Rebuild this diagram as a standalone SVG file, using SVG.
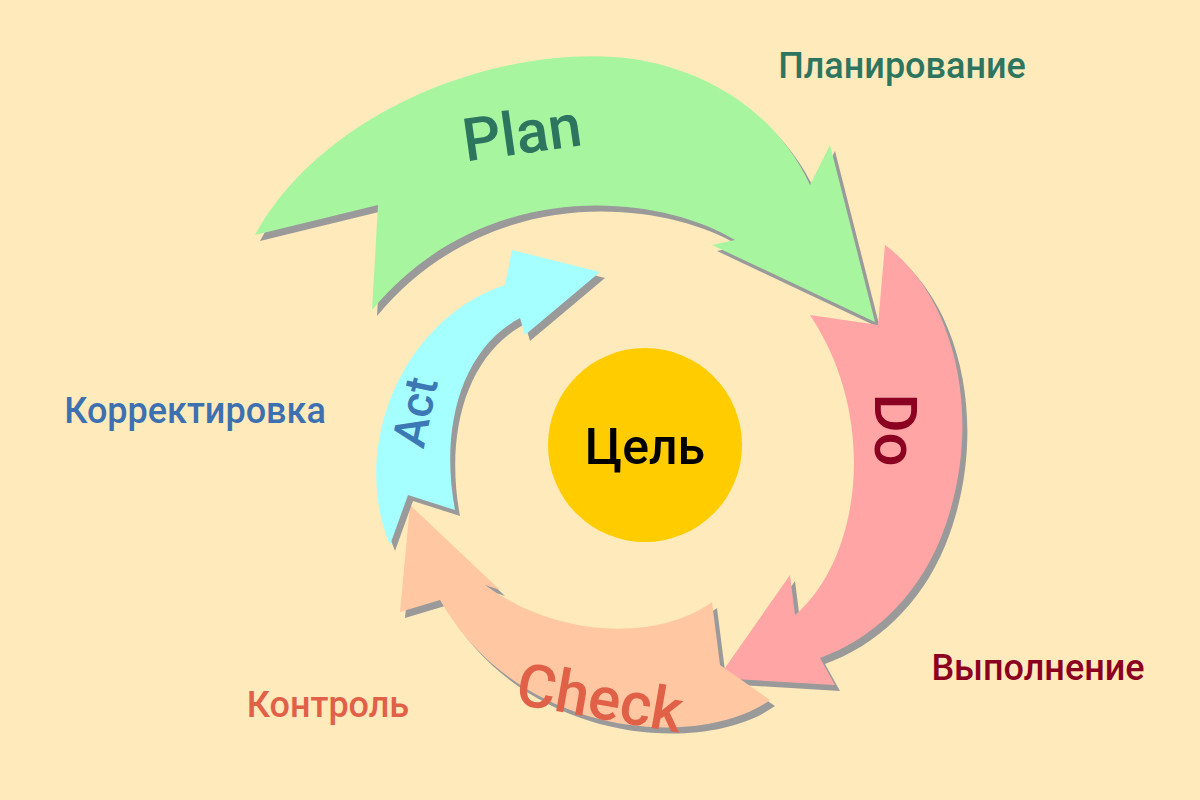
<svg xmlns="http://www.w3.org/2000/svg" width="1200" height="800" viewBox="0 0 1200 800">
<style>
text{font-family:Roboto,"Liberation Sans",sans-serif;font-weight:500;text-anchor:middle;dominant-baseline:central}
.sh{fill:#9a9a9a}
.lab{font-size:36px}
.big{font-size:60px}
</style>
<defs>
<path id="plan" d="M255,235 C330,100 520,40 640,60 C720,75 780,120 810,185 L830,145 L875,322 L712,245 L735,240 C650,190 480,180 372,310 L378,205 Z"/>
<path id="do" d="M885,245 C960,300 985,430 940,540 C915,600 870,640 820,658 L835,685 L718,678 L790,575 L795,615 C860,560 880,420 810,315 L878,325 Z"/>
<path id="check" d="M770,700 C700,750 520,740 440,600 L400,612 L410,505 L500,590 L485,585 C560,640 660,640 712,602 L720,665 Z"/>
<path id="act" d="M390,545 C350,450 400,320 505,285 L512,250 L600,272 L525,335 L520,318 C460,350 440,430 455,510 L408,495 Z"/>
</defs>
<rect width="1200" height="800" fill="#FFEABB"/>
<g id="connectors">
<use href="#plan" class="sh" transform="translate(5,6)"/>
<use href="#plan" fill="#A8F5A0"/>
<use href="#do" class="sh" transform="translate(5,6)"/>
<use href="#do" fill="#FFA5A5"/>
<use href="#check" class="sh" transform="translate(5,6)"/>
<use href="#check" fill="#FFC8A2"/>
<use href="#act" class="sh" transform="translate(5,6)"/>
<use href="#act" fill="#A5FFFF"/>
</g>
<g id="goal">
<circle cx="645" cy="445" r="97" fill="#FFCC00"/>
<text x="645" y="447" font-size="50" fill="#000">Цель</text>
</g>
<g id="plan-node">
<text class="big" x="522" y="133" fill="#2E7560" transform="rotate(-8 522 133)">Plan</text>
<text class="lab" x="902" y="66" fill="#2E7560">Планирование</text>
</g>
<g id="do-node">
<text class="big" x="895" y="430" fill="#8B0020" transform="rotate(90 895 430)">Do</text>
<text class="lab" x="1038" y="668" fill="#8B0020">Выполнение</text>
</g>
<g id="check-node">
<text class="big" x="600" y="698" fill="#E06048" transform="rotate(10 600 698)">Check</text>
<text class="lab" x="328" y="705" fill="#E06048">Контроль</text>
</g>
<g id="act-node">
<text class="big" x="415" y="412" font-size="46" fill="#3C78B4" transform="rotate(-78 415 412)" style="font-size:46px">Act</text>
<text class="lab" x="195" y="411" fill="#3C70B0">Корректировка</text>
</g>
</svg>
